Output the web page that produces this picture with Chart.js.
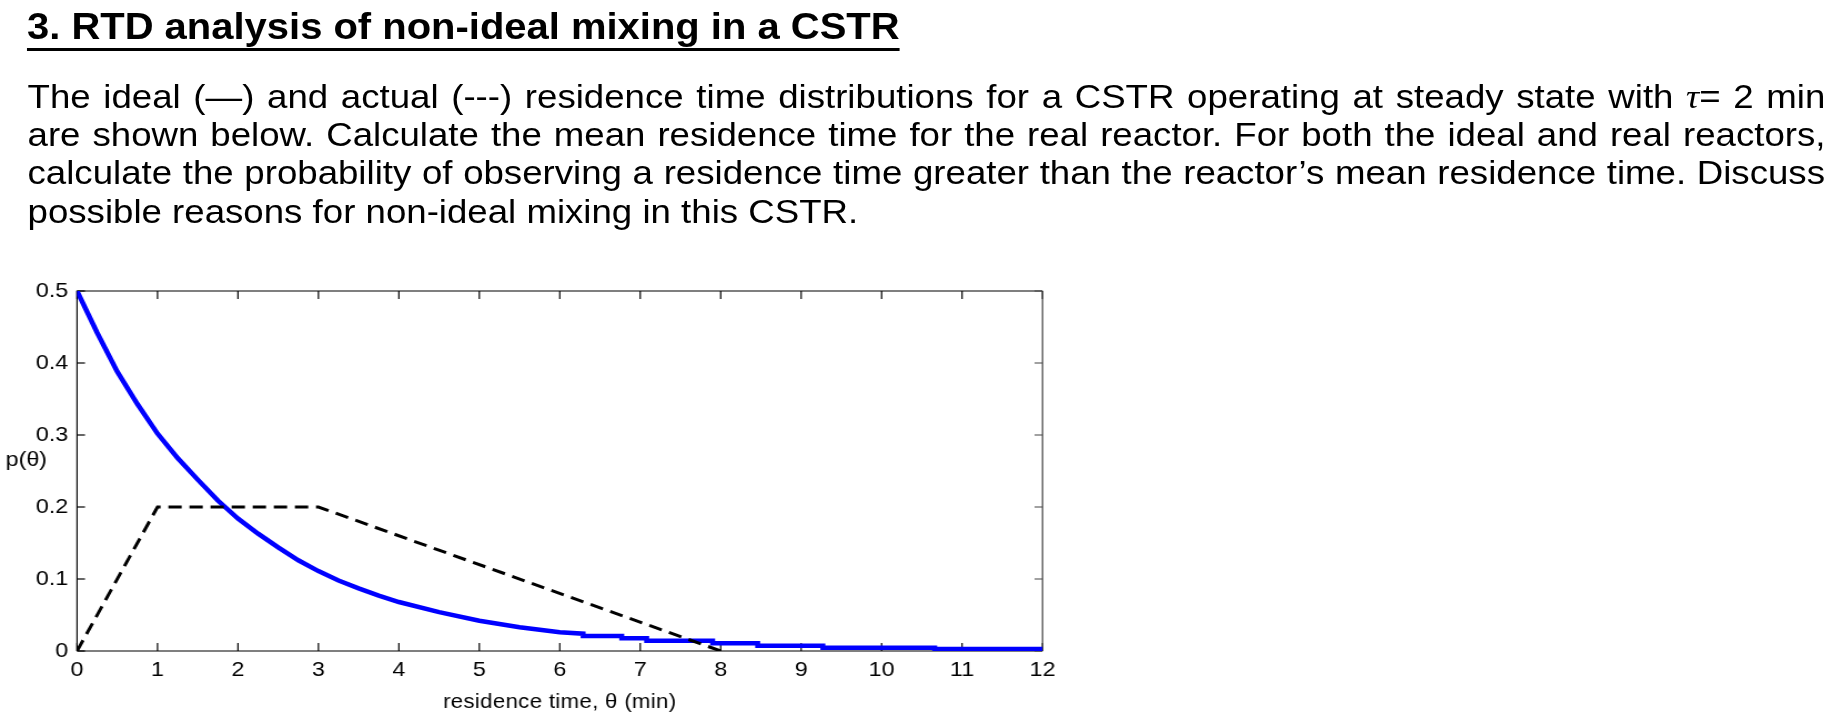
<!DOCTYPE html>
<html>
<head>
<meta charset="utf-8">
<title>RTD analysis of non-ideal mixing in a CSTR</title>
<script src="https://cdn.jsdelivr.net/npm/chart.js@4.4.1/dist/chart.umd.min.js"></script>
<style>
  html, body { margin: 0; padding: 0; background: #fff; }
  body { width: 1838px; height: 723px; overflow: hidden; position: relative; }
  /* the source picture is a bit wider than tall, so the page is stretched sideways */
  #page {
    position: absolute; left: 0; top: 0; width: 1656px; height: 723px;
    transform: scaleX(1.11); transform-origin: 0 0;
    font-family: "Liberation Sans", Arial, sans-serif; color: #000;
  }
  #title {
    position: absolute; left: 24.3px; top: 8.5px;
    font-size: 36px; line-height: 36px; font-weight: bold; white-space: nowrap;
    text-decoration: underline; text-decoration-thickness: 3px; text-underline-offset: 9px;
    text-decoration-skip-ink: none;
  }
  .line { position: absolute; left: 24.8px; font-size: 33px; line-height: 38px; white-space: nowrap; }
  .tau { font-family: "Liberation Serif", "Times New Roman", serif; font-style: italic; }
  #chartBox { position: absolute; left: 0; top: 270px; width: 960px; height: 453px; }
</style>
</head>
<body>
<div id="page">
  <div id="title">3. RTD analysis of non-ideal mixing in a CSTR</div>
  <div class="line just" style="top:77.6px">The ideal (—) and actual (---) residence time distributions for a CSTR operating at steady state with <span class="tau">τ</span>= 2 min</div>
  <div class="line just" style="top:116px">are shown below. Calculate the mean residence time for the real reactor. For both the ideal and real reactors,</div>
  <div class="line just" style="top:154.3px">calculate the probability of observing a residence time greater than the reactor’s mean residence time. Discuss</div>
  <div class="line" style="top:192.6px">possible reasons for non-ideal mixing in this CSTR.</div>
  <div id="chartBox"><canvas id="rtdChart" width="960" height="453"></canvas></div>
</div>

<script>
// ---- data ----
const idealTheta = [0, 0.25, 0.5, 0.75, 1, 1.25, 1.5, 1.75, 2, 2.25, 2.5, 2.75, 3, 3.25, 3.5, 3.75, 4, 4.5, 5, 5.5, 6,
  6.29, 6.29, 6.77, 6.77, 7.08, 7.08, 7.9, 7.9, 8.46, 8.46, 9.27, 9.27, 10.66, 10.66, 12];
const idealP = [0.5, 0.442, 0.388, 0.343, 0.302, 0.268, 0.238, 0.209, 0.184, 0.163, 0.144, 0.126, 0.111, 0.098, 0.087, 0.077, 0.068, 0.054, 0.042, 0.033, 0.026,
  0.024, 0.021, 0.021, 0.0176, 0.0176, 0.0144, 0.0144, 0.0106, 0.0106, 0.0074, 0.0074, 0.0046, 0.0046, 0.0028, 0.0028];

const actualTheta = [0, 1, 3, 8];
const actualP = [0, 0.2, 0.2, 0];

const xTickLabels = ['0', '1', '2', '3', '4', '5', '6', '7', '8', '9', '10', '11', '12'];
const yTickLabels = ['0', '0.1', '0.2', '0.3', '0.4', '0.5'];
const xTitle = 'residence time, θ (min)';
const yTitle = 'p(θ)';

// ---- justify the paragraph lines ----
const lineWidth = 1619.4;
function justify() {
  document.querySelectorAll('.line.just').forEach(el => {
    el.style.wordSpacing = '0px';
    const natural = el.offsetWidth;
    const gaps = (el.textContent.match(/ /g) || []).length;
    el.style.wordSpacing = ((lineWidth - natural) / gaps) + 'px';
  });
}
justify();
if (document.fonts) document.fonts.ready.then(justify);

const chartFont = '"Liberation Sans", Arial, sans-serif';

// ---- frame with inward ticks, plus the two axis titles ----
const framePlugin = {
  id: 'frame',
  beforeDatasetsDraw(chart) {
    const { ctx, chartArea: a, scales: { x, y } } = chart;
    ctx.save();
    ctx.lineWidth = 1.2;
    ctx.strokeStyle = '#000';
    ctx.beginPath();
    ctx.moveTo(a.left, a.bottom);
    ctx.lineTo(a.left, a.top);
    ctx.lineTo(a.right, a.top);
    ctx.moveTo(a.left, a.bottom);
    ctx.lineTo(a.right, a.bottom);
    ctx.stroke();

    x.ticks.forEach(t => {
      const px = x.getPixelForValue(t.value);
      ctx.beginPath();
      ctx.moveTo(px, a.bottom); ctx.lineTo(px, a.bottom - 8);
      ctx.moveTo(px, a.top); ctx.lineTo(px, a.top + 8);
      ctx.stroke();
    });
    y.ticks.forEach(t => {
      const py = y.getPixelForValue(t.value);
      ctx.beginPath();
      ctx.moveTo(a.left, py); ctx.lineTo(a.left + 7.2, py);
      ctx.stroke();
    });

    // right side is a lighter grey in the source
    ctx.strokeStyle = '#444';
    ctx.beginPath();
    ctx.moveTo(a.right, a.top); ctx.lineTo(a.right, a.bottom);
    y.ticks.forEach(t => {
      const py = y.getPixelForValue(t.value);
      ctx.moveTo(a.right, py); ctx.lineTo(a.right - 7.2, py);
    });
    ctx.stroke();

    ctx.fillStyle = '#000';
    ctx.font = '21px ' + chartFont;
    ctx.textBaseline = 'middle';
    ctx.textAlign = 'left';
    ctx.fillText(yTitle, 5, a.top + 169);
    ctx.font = '20px ' + chartFont;
    ctx.textAlign = 'center';
    ctx.letterSpacing = '0.3px';
    ctx.fillText(xTitle, (a.left + a.right) / 2, a.bottom + 51);
    ctx.restore();
  }
};

Chart.defaults.font.family = chartFont;
Chart.defaults.font.size = 21;
Chart.defaults.color = '#000';

const ctx = document.getElementById('rtdChart').getContext('2d');
const rtdChart = new Chart(ctx, {
  type: 'line',
  data: {
    datasets: [
      {
        label: 'actual',
        data: actualTheta.map((t, i) => ({ x: t, y: actualP[i] })),
        borderColor: '#000',
        borderWidth: 3,
        borderDash: [12, 7],
        pointRadius: 0,
        tension: 0,
        order: 1
      },
      {
        label: 'ideal',
        data: idealTheta.map((t, i) => ({ x: t, y: idealP[i] })),
        borderColor: '#0000ff',
        borderWidth: 4.5,
        pointRadius: 0,
        tension: 0,
        order: 2
      }
    ]
  },
  options: {
    responsive: false,
    animation: false,
    devicePixelRatio: 1,
    layout: { padding: { top: 21, right: 20.8, left: 0, bottom: 0 } },
    plugins: {
      legend: { display: false },
      tooltip: { enabled: false }
    },
    scales: {
      x: {
        type: 'linear',
        min: 0,
        max: 12,
        grid: { display: false, drawTicks: false },
        border: { display: false },
        ticks: {
          stepSize: 1,
          autoSkip: false,
          maxRotation: 0,
          padding: 7,
          font: { size: 21 },
          callback: (v, i) => xTickLabels[i]
        },
        afterFit: scale => { scale.height = 72; }
      },
      y: {
        min: 0,
        max: 0.5,
        grid: { display: false, drawTicks: false },
        border: { display: false },
        ticks: {
          stepSize: 0.1,
          padding: 8,
          font: { size: 21 },
          callback: (v, i) => yTickLabels[i]
        },
        afterFit: scale => { scale.width = 69.4; }
      }
    }
  },
  plugins: [framePlugin]
});
</script>
</body>
</html>
